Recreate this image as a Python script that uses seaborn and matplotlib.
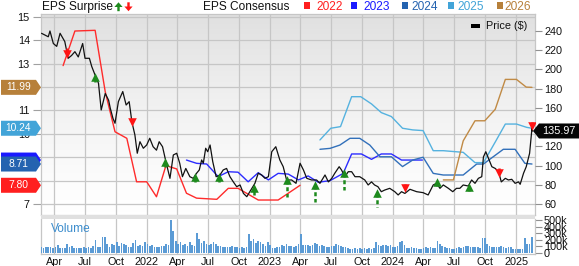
import numpy as np
import pandas as pd
import matplotlib
matplotlib.use("Agg")
import matplotlib.pyplot as plt
from matplotlib.patches import Polygon, Rectangle
from matplotlib.transforms import blended_transform_factory
from matplotlib.colors import LinearSegmentedColormap
import seaborn as sns

# ---------------- data ----------------
price_dates = ["2021-02-23","2021-03-15","2021-03-20","2021-03-30","2021-04-09","2021-04-19","2021-05-03","2021-05-13","2021-05-23","2021-06-02","2021-06-12","2021-06-25","2021-07-02","2021-07-15","2021-07-22","2021-08-01","2021-08-11","2021-08-19","2021-08-31","2021-09-10","2021-09-15","2021-09-23","2021-09-29","2021-10-09","2021-10-22","2021-11-01","2021-11-10","2021-11-18","2021-11-27","2021-12-04","2021-12-12","2021-12-22",
               "2022-01-01","2022-01-10","2022-01-20","2022-01-30","2022-02-07","2022-02-17","2022-02-27","2022-03-11","2022-03-21","2022-03-31","2022-04-09","2022-04-17","2022-04-27","2022-05-09","2022-05-19","2022-05-29","2022-06-06","2022-06-13","2022-06-18","2022-06-25","2022-07-01","2022-07-08","2022-07-16","2022-07-26","2022-08-06","2022-08-16","2022-08-26","2022-09-05","2022-09-15","2022-09-25","2022-10-05","2022-10-15","2022-10-25","2022-11-03","2022-11-18","2022-11-28","2022-12-08","2022-12-18","2022-12-28",
               "2023-01-07","2023-01-19","2023-01-31","2023-02-10","2023-02-20","2023-03-07","2023-03-20","2023-04-01","2023-04-11","2023-04-21","2023-05-05","2023-05-20","2023-05-30","2023-06-14","2023-06-24","2023-07-04","2023-07-13","2023-07-26","2023-08-02","2023-08-12","2023-08-22","2023-09-01","2023-09-11","2023-09-25","2023-10-10","2023-10-20","2023-10-30","2023-11-08","2023-11-18","2023-11-28","2023-12-08","2023-12-23",
               "2024-01-07","2024-01-17","2024-01-27","2024-02-06","2024-02-21","2024-03-12","2024-03-31","2024-04-15","2024-04-30","2024-05-10","2024-05-20","2024-05-30","2024-06-14","2024-06-27","2024-07-08","2024-07-18","2024-07-28","2024-08-12","2024-08-22","2024-09-01","2024-09-11","2024-09-21","2024-09-26","2024-10-03","2024-10-11","2024-10-21","2024-10-31","2024-11-10","2024-11-18","2024-11-30","2024-12-09","2024-12-19","2024-12-29",
               "2025-01-08","2025-01-13","2025-01-23","2025-01-31","2025-02-10","2025-02-17","2025-02-19"]
price_values = [237.6,234,240,227,224,237.6,229,211.6,214.5,218.5,213,227,211.6,211.6,203,194,185.6,157.8,175,168,159.6,149,144,166.5,177,163,166.5,145.6,131.8,112.8,124.8,118,
                121.4,128.4,119.6,116,124.8,119.6,104,86.7,111,112.8,102.4,88.4,97,88.4,86.7,92,95.4,105.8,102.4,118,114.4,121.4,104,88.4,90,95.4,97,88.4,83,78,79.8,71,67.6,72.8,81.5,92,90.2,86.7,88.4,
                114.4,119.6,105.8,98.8,85,85,81.5,102.4,95.4,86.7,85,85,81.5,90.2,83,86.7,92,98.8,95.4,88.4,93.6,93.6,88.4,88.4,85,79.8,83,79.8,78,72.8,74.5,76.3,
                72.8,69.4,72.8,71,75.3,72.8,71.8,69.4,79.8,81.5,76.3,79.8,76.3,72.8,76.3,76.3,79.8,78.7,85,81.5,86.7,88.4,109,114.4,107.6,98.8,97,93.6,83,86.7,85,85.7,81.5,
                83,80.5,92,98.8,112.8,138.8,135.97]

cons_2022_dates = ["2021-04-28","2021-06-02","2021-08-01","2021-08-31","2021-09-29","2021-11-03","2021-12-02","2022-01-01","2022-01-30","2022-02-27","2022-03-31","2022-04-29","2022-05-29","2022-07-28","2022-08-31","2022-09-29","2022-11-28","2023-01-26","2023-02-25","2023-04-01"]
cons_2022_values = [12.92,14.40,14.43,11.80,10.09,9.81,7.95,7.95,7.31,8.64,8.50,7.46,7.25,7.20,7.67,7.67,7.17,7.17,7.46,7.80]

cons_2023_dates = ["2022-04-29","2022-05-29","2022-06-28","2022-08-01","2022-08-31","2022-09-29","2022-10-29","2022-11-28","2022-12-28","2023-01-26","2023-02-25","2023-03-27","2023-04-25","2023-05-25","2023-06-29","2023-08-07","2023-09-01","2023-09-30","2023-10-30","2023-11-28","2023-12-28","2024-01-27","2024-02-26","2024-03-29"]
cons_2023_values = [8.88,8.74,8.71,8.17,8.38,8.36,7.95,8.34,8.03,8.31,8.28,8.03,8.20,7.93,8.00,8.31,9.14,9.14,8.91,9.14,9.14,8.88,8.88,8.88]

cons_2024_dates = ["2023-05-30","2023-06-29","2023-07-28","2023-08-27","2023-09-25","2023-10-25","2023-11-24","2023-12-28","2024-01-30","2024-02-29","2024-03-31","2024-04-30","2024-05-30","2024-07-28","2024-09-06","2024-09-26","2024-10-25","2024-11-24","2024-12-29","2025-01-27","2025-02-17"]
cons_2024_values = [9.34,9.38,9.52,9.81,9.81,9.52,9.02,9.02,8.60,8.88,9.00,8.31,8.24,8.24,8.71,8.71,9.02,9.34,9.34,8.74,8.71]

cons_2025_dates = ["2023-05-30","2023-07-01","2023-07-30","2023-09-01","2023-09-28","2023-10-30","2023-11-28","2023-12-28","2024-01-30","2024-02-29","2024-03-31","2024-04-30","2024-05-30","2024-07-28","2024-09-01","2024-09-26","2024-10-31","2024-11-30","2025-01-02","2025-02-01","2025-02-17"]
cons_2025_values = [9.74,10.24,10.31,11.59,11.59,11.28,10.91,10.74,10.24,10.17,10.14,9.28,9.28,9.21,8.77,8.77,9.65,10.42,10.42,10.28,10.24]

cons_2026_dates = ["2024-05-30","2024-06-29","2024-07-28","2024-09-01","2024-09-30","2024-10-31","2024-11-30","2025-01-02","2025-01-31","2025-02-17"]
cons_2026_values = [8.03,8.03,9.70,10.56,10.56,11.05,12.33,12.33,12.00,11.99]

surprise_dates = ["2021-05-11","2021-08-02","2021-11-17","2022-02-24","2022-05-24","2022-08-03","2022-11-15","2023-02-21","2023-05-16","2023-08-08","2023-11-14","2024-02-06","2024-05-11","2024-08-14","2024-11-12","2025-02-18"]
surprise_kind = ["miss","beat","miss","beat","beat","beat","beat","beat","beat","beat","beat","miss","beat","beat","miss","miss"]
surprise_head = [215.8,192.5,145.0,104.0,88.4,88.4,76.3,85.0,79.8,92.0,71.1,76.3,83.2,78.0,92.6,141.2]
surprise_tail = [222.0,187.3,148.4,98.8,83.0,83.0,69.4,67.6,62.4,74.6,57.2,80.8,78.7,73.8,97.1,145.6]

volume_start = "2021-02-22"
volume_k = [85,80,90,85,95,80,85,120,75,70,
            80,135,90,110,75,70,80,75,85,70,
            95,80,110,200,85,90,250,240,135,95,
            135,120,160,110,150,135,120,85,95,150,
            200,110,120,100,160,135,110,120,85,95,
            85,100,110,135,120,500,335,185,130,160,
            120,135,110,160,120,100,300,210,150,185,
            140,120,135,170,130,110,100,85,95,90,
            85,100,95,85,80,90,75,85,290,185,
            210,150,185,160,135,110,160,120,80,70,
            85,90,120,100,135,110,100,95,105,135,
            290,120,115,125,110,120,150,130,110,115,
            110,85,95,110,100,135,120,110,85,90,
            70,60,65,70,60,75,60,70,65,70,
            60,75,170,120,110,115,120,110,120,85,
            85,110,160,185,120,75,80,85,70,70,
            65,60,75,85,80,85,75,80,185,140,
            110,90,70,75,60,65,70,85,75,85,
            110,100,85,90,85,95,80,220,220,135,
            110,85,90,95,85,100,85,75,85,95,
            60,55,60,65,60,220,135,140,240]

tick_dates = ["2021-04-01","2021-07-01","2021-10-01","2022-01-01","2022-04-01","2022-07-01","2022-10-01","2023-01-01",
              "2023-04-01","2023-07-01","2023-10-01","2024-01-01","2024-04-01","2024-07-01","2024-10-01","2025-01-01"]
tick_labels = ["Apr","Jul","Oct","2022","Apr","Jul","Oct","2023","Apr","Jul","Oct","2024","Apr","Jul","Oct","2025"]
eps_ticks = [7, 8, 9, 10, 11, 12, 13, 14, 15]
eps_tick_labels = ["7", "", "", "10", "11", "", "13", "14", "15"]   # 8, 9, 12 sit under the value tags
price_ticks = [60, 80, 100, 120, 140, 160, 180, 200, 220, 240]
price_tick_labels = ["60", "80", "100", "120", "", "160", "180", "200", "220", "240"]  # 140 under price tag
volume_ticks = [0, 100, 200, 300, 400, 500]
volume_tick_labels = ["0", "100k", "200k", "300k", "400k", "500k"]

years = ["2022", "2023", "2024", "2025", "2026"]
year_colors = {"2022": "#ff1f1f", "2023": "#1a1aff", "2024": "#2463b0", "2025": "#42a4d8", "2026": "#b7803a"}
line_colors = {"2022": "#ff2b2b", "2023": "#2c2cff", "2024": "#3270ba", "2025": "#55b2df", "2026": "#c08a45"}
hidden_tag_text = {"2023"}   # its tag lies under the 2024 tag

# ---------------- figure ----------------
sns.set_theme(style="white")
plt.rcParams["font.family"] = ["Liberation Sans", "DejaVu Sans"]

W, H = 579, 266
fig = plt.figure(figsize=(W / 100, H / 100), dpi=100)
fig.patch.set_facecolor("white")

def fx(px):
    return px / W

def fy(py):
    return 1 - py / H

L, R = 41, 535
ax = fig.add_axes([fx(L), fy(215), fx(R) - fx(L), fy(14) - fy(215)])
axp = ax.twinx()
axv = fig.add_axes([fx(L), fy(254), fx(R) - fx(L), fy(219) - fy(254)])

GRID = "#c6c6c6"
cmap = LinearSegmentedColormap.from_list("bg", ["#ffffff", "#e0e0e0"])
grad = np.linspace(1, 0, 256).reshape(-1, 1) ** 1.3
ax.imshow(grad, extent=[0, 1, 0, 1], transform=ax.transAxes, aspect="auto",
          cmap=cmap, vmin=0, vmax=1, zorder=0, interpolation="bilinear")

cons_sets = {"2022": (cons_2022_dates, cons_2022_values), "2023": (cons_2023_dates, cons_2023_values),
             "2024": (cons_2024_dates, cons_2024_values), "2025": (cons_2025_dates, cons_2025_values),
             "2026": (cons_2026_dates, cons_2026_values)}
cons = pd.concat([pd.DataFrame({"date": pd.to_datetime(d), "eps": v, "year": y})
                  for y, (d, v) in cons_sets.items()], ignore_index=True)
sns.lineplot(data=cons, x="date", y="eps", hue="year", palette=line_colors, ax=ax,
             legend=False, linewidth=1.0, zorder=3)

sns.lineplot(x=pd.to_datetime(price_dates), y=price_values, ax=axp, color="#111111",
             linewidth=0.9, zorder=4)

GREEN, RED = "#1d8a1d", "#ff1414"
for d, k, h, t in zip(surprise_dates, surprise_kind, surprise_head, surprise_tail):
    dt = pd.Timestamp(d)
    col = GREEN if k == "beat" else RED
    long = abs(h - t) > 8
    axp.plot([dt, dt], [h, t], color=col, lw=1.8, ls=(0, (1.6, 1.1)) if long else "-",
             solid_capstyle="butt", zorder=5)
sd = pd.to_datetime(surprise_dates)
beat_mask = np.array([k == "beat" for k in surprise_kind])
sns.scatterplot(x=sd[beat_mask], y=np.array(surprise_head)[beat_mask], ax=axp, marker="^",
                s=38, color=GREEN, linewidth=0, zorder=6)
sns.scatterplot(x=sd[~beat_mask], y=np.array(surprise_head)[~beat_mask], ax=axp, marker="v",
                s=38, color=RED, linewidth=0, zorder=6)

vol_dates = pd.date_range(volume_start, periods=len(volume_k), freq="7D")
axv.bar(vol_dates, volume_k, width=5.0, color="#5b9bd5", linewidth=0, zorder=3)

xlo, xhi = pd.Timestamp("2021-02-21 10:00"), pd.Timestamp("2025-02-26")
for a in (ax, axv):
    a.set_xlim(xlo, xhi)
ax.set_ylim(6.529, 15.128)
axp.set_ylim(48.55, 257.69)
axv.set_ylim(-15, 515)

tdates = pd.to_datetime(tick_dates)
ax.set_xticks(tdates)
ax.set_yticks(eps_ticks)
ax.set_yticklabels(eps_tick_labels)
ax.grid(True, color=GRID, linewidth=0.9)
ax.set_axisbelow(True)
ax.tick_params(axis="x", length=0, labelbottom=False)
ax.tick_params(axis="y", length=6, width=0.8, color="#a0a0a0", labelsize=7.8, pad=2, labelcolor="#111111")
ax.set_xlabel("")
ax.set_ylabel("")
for s in ax.spines.values():
    s.set_color(GRID)
    s.set_linewidth(0.9)

axp.set_yticks(price_ticks)
axp.set_yticklabels(price_tick_labels)
axp.tick_params(axis="y", length=5, width=0.8, color="#909090", labelsize=7.8, pad=1.5, labelcolor="#111111")
axp.set_ylabel("")
axp.grid(False)
for s in axp.spines.values():
    s.set_visible(False)

axv.set_xticks(tdates)
axv.set_xticklabels(tick_labels)
axv.tick_params(axis="x", length=0, labelsize=7.8, pad=2.5, labelcolor="#111111")
axv.yaxis.tick_right()
axv.set_yticks(volume_ticks)
axv.set_yticklabels(volume_tick_labels)
axv.tick_params(axis="y", length=5, width=0.8, color="#909090", labelsize=7.8, pad=1.5, labelcolor="#111111")
axv.grid(True, axis="x", color=GRID, linewidth=0.9)
axv.set_axisbelow(True)
axv.set_facecolor("white")
for s in axv.spines.values():
    s.set_color(GRID)
    s.set_linewidth(0.9)
axv.spines["top"].set_visible(False)

fig.add_artist(Rectangle((fx(L), fy(219)), fx(R) - fx(L), 4 / H, transform=fig.transFigure,
                         facecolor="#e0e0e0", edgecolor="none", zorder=5))
fig.text(fx(51), fy(229), "Volume", color="#3b8ccc", fontsize=8.6, va="center", ha="left")

tl = blended_transform_factory(fig.transFigure, ax.transData)
hh = 7.5 / 23.375
for i, y in enumerate(years):
    v = cons_sets[y][1][-1]
    poly = Polygon([[fx(1), v - hh], [fx(36), v - hh], [fx(41), v], [fx(36), v + hh], [fx(1), v + hh]],
                   closed=True, transform=tl, facecolor=year_colors[y], edgecolor="none", zorder=20 + 2 * i)
    fig.add_artist(poly)
    if y not in hidden_tag_text:
        fig.text(fx(18.5), v, f"{v:.2f}", transform=tl, ha="center", va="center", color="white",
                 fontsize=7.4, zorder=21 + 2 * i)

tr = blended_transform_factory(fig.transFigure, axp.transData)
pv = price_values[-1]
ph = 7.5 / 0.9611
fig.add_artist(Polygon([[fx(533), pv], [fx(539), pv - ph], [fx(579), pv - ph], [fx(579), pv + ph], [fx(539), pv + ph]],
                       closed=True, transform=tr, facecolor="#050505", edgecolor="none", zorder=30))
fig.text(fx(559), pv, f"{pv:.2f}", transform=tr, ha="center", va="center", color="white",
         fontsize=7.8, zorder=31)

def pts(lst):
    return [[fx(a), fy(b)] for a, b in lst]

fig.text(fx(41.5), fy(9.6), "EPS Surprise", fontsize=8.6, ha="left", va="baseline", color="#111111")
fig.add_artist(Polygon(pts([(118.5, 2.3), (122.6, 7), (119.7, 7), (119.7, 11.2), (117.3, 11.2), (117.3, 7), (114.4, 7)]),
                       closed=True, transform=fig.transFigure, facecolor=GREEN, edgecolor="none"))
fig.add_artist(Polygon(pts([(127.3, 2.3), (129.7, 2.3), (129.7, 6.5), (132.6, 6.5), (128.5, 11.2), (124.4, 6.5), (127.3, 6.5)]),
                       closed=True, transform=fig.transFigure, facecolor=RED, edgecolor="none"))
fig.text(fx(203), fy(9.6), "EPS Consensus", fontsize=8.6, ha="left", va="baseline", color="#111111")
legend_pos = {"2022": (304, 316.5), "2023": (351, 363), "2024": (402, 411), "2025": (448, 457), "2026": (497, 504)}
for y in years:
    sx, tx = legend_pos[y]
    fig.add_artist(Rectangle((fx(sx), fy(8.6)), 6 / W, 6.8 / H, transform=fig.transFigure,
                             facecolor=year_colors[y], edgecolor="none"))
    fig.text(fx(tx), fy(9.6), y, fontsize=8.6, ha="left", va="baseline", color=year_colors[y])

fig.add_artist(Rectangle((fx(471), fy(27.5)), 9 / W, 4 / H, transform=fig.transFigure,
                         facecolor="black", edgecolor="none", zorder=10))
fig.text(fx(486), fy(28.8), "Price ($)", fontsize=7.8, ha="left", va="baseline", color="#111111", zorder=10)

fig.savefig("out.png", dpi=100, facecolor="white")
